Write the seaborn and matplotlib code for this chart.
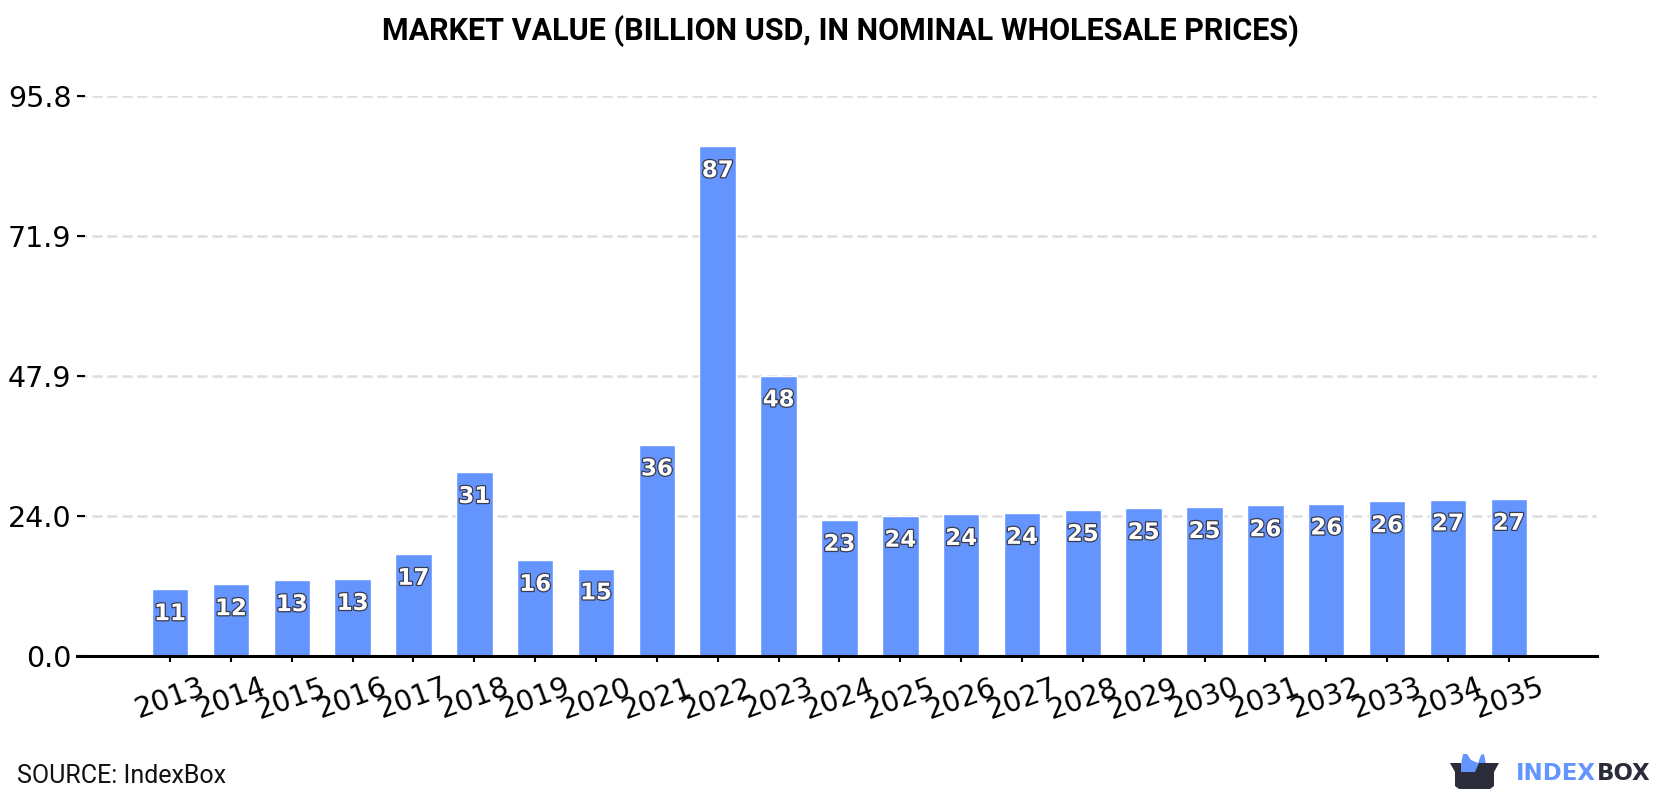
import matplotlib
matplotlib.use("Agg")
import matplotlib.pyplot as plt
import matplotlib.patheffects as pe
from matplotlib.patches import Polygon
import pandas as pd
import seaborn as sns

years = [str(y) for y in range(2013, 2036)]
values = [11.45, 12.3, 13.0, 13.2, 17.49, 31.49, 16.45, 15.0, 36.2, 87.2, 48.0, 23.3,
          24.0, 24.3, 24.49, 25.0, 25.3, 25.49, 25.8, 26.1, 26.49, 26.8, 26.9]
y_ticks = [0.0, 24.0, 47.9, 71.9, 95.8]
title_text = "MARKET VALUE (BILLION USD, IN NOMINAL WHOLESALE PRICES)"
source_text = "SOURCE: IndexBox"

BLUE = "#6495FF"
DARK = "#2B2D3A"

sns.set_theme(style="white")
plt.rcParams["font.family"] = ["DejaVu Sans"]

df = pd.DataFrame({"year": years, "value": values})

fig = plt.figure(figsize=(16.8, 8), dpi=100)
ax = fig.add_axes([77 / 1680, 1 - 656.3 / 800, (1597 - 77) / 1680, (656.3 - 96) / 800])

sns.barplot(data=df, x="year", y="value", color=BLUE, saturation=1, width=0.6, ax=ax, zorder=3)

ax.set_xlim(-1.53, 23.45)
ax.set_ylim(0, 95.8)
ax.set_xlabel("")
ax.set_ylabel("")

ax.set_yticks(y_ticks, [f"{t:.1f}" for t in y_ticks])
ax.tick_params(axis="y", labelsize=20.5, direction="in", left=True, length=5.8, width=1.5,
               pad=4, color="black", labelcolor="black")
ax.tick_params(axis="x", labelsize=20.5, length=4.5, width=1.5, pad=7.5,
               color="black", labelcolor="black", bottom=True)
for lab in ax.get_xticklabels():
    lab.set_rotation(20)

ax.grid(axis="y", color="#DDDDDD", linewidth=1.8, linestyle=(0, (4, 2)), zorder=0)
ax.set_axisbelow(True)

for side in ("top", "right", "left"):
    ax.spines[side].set_visible(False)
ax.spines["bottom"].set_linewidth(2.2)
ax.spines["bottom"].set_color("black")
ax.spines["bottom"].set_zorder(5)

# Rounded value inside the top of each bar, white with a dark outline
for i, v in enumerate(values):
    ax.annotate(f"{v:.0f}", (i, v), xytext=(0, -17.5), textcoords="offset points",
                ha="center", va="center", fontsize=16.5, fontweight="bold", color="white",
                zorder=6,
                path_effects=[pe.withStroke(linewidth=1.8, foreground="#3A3A4A")])

fig.text(0.5, 1 - 31 / 800, title_text, ha="center", va="center",
         fontsize=22, fontweight="bold", family="Roboto", color="black")
fig.text(17 / 1680, 1 - 776 / 800, source_text, ha="left", va="center",
         fontsize=18, family="Roboto", color="#111111")

# IndexBox wordmark and box emblem
fig.text(1516 / 1680, 1 - 774 / 800, "INDEX", ha="left", va="center",
         fontsize=16.5, fontweight="bold", color=BLUE)
fig.text(1597 / 1680, 1 - 774 / 800, "BOX", ha="left", va="center",
         fontsize=16.5, fontweight="bold", color=DARK)

logo = fig.add_axes([0, 0, 1, 1], facecolor="none")
logo.set_xlim(0, 1680)
logo.set_ylim(800, 0)
logo.axis("off")
logo.add_patch(Polygon([(1461, 764), (1463, 754), (1467, 754), (1471, 760), (1478, 763),
                        (1481, 755), (1484, 754), (1486, 764), (1486, 773), (1461, 773)],
                       closed=True, facecolor=BLUE, edgecolor="none"))
logo.add_patch(Polygon([(1450, 763), (1461, 763), (1461, 772), (1475, 772), (1479, 763), (1499, 763),
                        (1494, 772), (1494, 786), (1490, 789), (1459, 789), (1455, 786), (1455, 772)],
                       closed=True, facecolor=DARK, edgecolor="none"))

fig.savefig("out.png", dpi=100, facecolor="white")
